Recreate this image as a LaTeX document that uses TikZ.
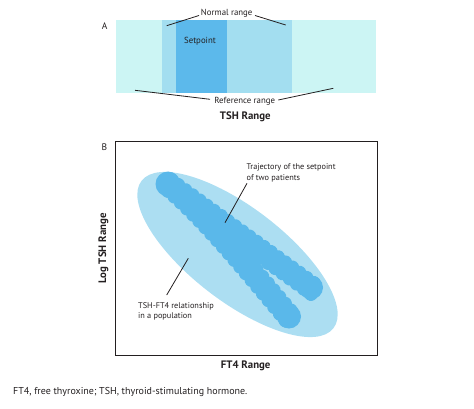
\documentclass[tikz,border=0pt]{standalone}
\usepackage{fontspec}
\setmainfont{PT Sans}
\usetikzlibrary{calc,decorations.markings}
\definecolor{refC}{RGB}{204,245,244}
\definecolor{normC}{RGB}{163,222,240}
\definecolor{setC}{RGB}{92,185,235}
\definecolor{ellC}{RGB}{172,222,242}
\definecolor{blobC}{RGB}{90,184,234}
\definecolor{txtC}{RGB}{35,31,32}
\tikzset{
  lbl/.style={inner sep=0pt, text=txtC, font=\fontsize{8.8}{10.5}\selectfont},
  lblb/.style={inner sep=0pt, text=txtC, font=\fontsize{8.3}{10.6}\selectfont},
  ttl/.style={inner sep=0pt, text=txtC, font=\fontsize{10.8}{12}\selectfont\bfseries},
  leader/.style={draw=txtC, line width=0.8pt},
  blob/.style={fill=blobC, draw=none},
  scallops/.style={decorate, decoration={markings,
     mark=between positions 0 and 1 step 8.8pt with {
       \fill[blob] (0pt,5.4pt) circle (6.8pt);
       \fill[blob] (4.4pt,-5.4pt) circle (6.8pt);}}},
  core/.style={draw=blobC, line width=16pt},
}
\begin{document}
\begin{tikzpicture}[x=1pt,y=-1pt]
\useasboundingbox (0,0) rectangle (474,409);
% ---------- Panel A ----------
\fill[refC] (116,20) rectangle (376,93);
\fill[normC] (162,20) rectangle (292,93);
\fill[setC] (176,20) rectangle (227,93);
\node[lbl, font=\fontsize{9.5}{10}\selectfont] (A) at (104.7,25.7) {A};
\node[lbl] (sp) at (200,41.7) {Setpoint};
\node[lbl] (nr) at (226.7,13.5) {Normal range};
\coordinate (nrL1) at (199,15.5);
\coordinate (nrL2) at (166.7,25.7);
\coordinate (nrR1) at (255,15.5);
\coordinate (nrR2) at (285.7,25);
\draw[leader] (nrL1) -- (nrL2);
\draw[leader] (nrR1) -- (nrR2);
\node[lbl] (rr) at (244.7,101) {Reference range};
\coordinate (rrL1) at (210,99.3);
\coordinate (rrL2) at (135,90.3);
\coordinate (rrR1) at (278.3,100);
\coordinate (rrR2) at (333.3,88.3);
\draw[leader] (rrL1) -- (rrL2);
\draw[leader] (rrR1) -- (rrR2);
\node[ttl] (tshr) at (245.3,117) {TSH Range};
% ---------- Panel B ----------
\node[lbl, font=\fontsize{9.5}{10}\selectfont] (B) at (104.3,147.3) {B};
\fill[ellC, rotate around={-37.5:(237.5,254.5)}] (237.5,254.5) ellipse [x radius=121pt, y radius=47pt];
% chains (trajectories)
\coordinate (S) at (168,184);
\coordinate (E1) at (311,287.5);
\coordinate (C2a) at (207,217);
\coordinate (C2b) at (248,268);
\coordinate (E2) at (289,316.5);
\fill[blob] (S) circle (12.5pt);
\draw[core] (S) -- (E1);
\path[scallops] (S) -- (E1);
\fill[blob] (E1) circle (12pt);
\draw[core] (S) .. controls (C2a) and (C2b) .. (E2);
\path[scallops] (S) .. controls (C2a) and (C2b) .. (E2);
\fill[blob] (E2) circle (12pt);
% frame
\draw[txtC, line width=1pt] (115,142) rectangle (377,355);
\node[lblb, anchor=west, align=left] (traj) at (246.5,172.7) {Trajectory of the setpoint\\of two patients};
\coordinate (trajA) at (247,183.3);
\coordinate (trajB) at (225,222.7);
\draw[leader] (trajA) -- (trajB);
\node[lblb, anchor=west, align=left] (pop) at (138,311.3) {TSH-FT4 relationship\\in a population};
\coordinate (popA) at (188.3,258.3);
\coordinate (popB) at (166.7,295);
\draw[leader] (popA) -- (popB);
\node[ttl, rotate=90] (ylab) at (103.3,248.5) {Log TSH Range};
\node[ttl] (xlab) at (245.7,366) {FT4 Range};
\node[lbl, anchor=west, font=\fontsize{10}{12}\selectfont] (cap) at (13,392.3) {FT4, free thyroxine; TSH, thyroid-stimulating hormone.};
\end{tikzpicture}
\end{document}
